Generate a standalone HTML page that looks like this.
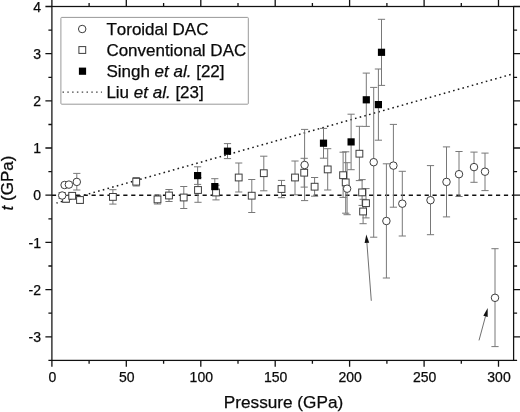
<!DOCTYPE html><html><head><meta charset="utf-8"><title>Stress vs Pressure</title>
<style>html,body{margin:0;padding:0;background:#fff}svg{display:block}text{font-family:"Liberation Sans",Arial,sans-serif;fill:#0a0a0a;stroke:#0a0a0a;stroke-width:0.25px;font-kerning:none}</style></head><body>
<svg width="520" height="412" viewBox="0 0 520 412">
<rect width="520" height="412" fill="#fff"/>
<line x1="51.9" y1="195.2" x2="513.6" y2="195.2" stroke="#111" stroke-width="1.5" stroke-dasharray="4.2 3.73"/>
<line x1="56.5" y1="203" x2="513.6" y2="73.7" stroke="#1a1a1a" stroke-width="1.5" stroke-dasharray="1.6 3.254" stroke-dashoffset="0.45"/>
<path d="M62.2 192.5V198.5M58.6 192.5H65.8M58.6 198.5H65.8" stroke="#787878" stroke-width="1" fill="none"/>
<path d="M76.8 173.4V190.0M73.2 173.4H80.4M73.2 190.0H80.4" stroke="#787878" stroke-width="1" fill="none"/>
<path d="M304.6 129.4V200.6M301.0 129.4H308.2M301.0 200.6H308.2" stroke="#787878" stroke-width="1" fill="none"/>
<path d="M347.1 162.7V214.7M343.5 162.7H350.7M343.5 214.7H350.7" stroke="#787878" stroke-width="1" fill="none"/>
<path d="M373.7 87.4V237.2M370.1 87.4H377.3M370.1 237.2H377.3" stroke="#787878" stroke-width="1" fill="none"/>
<path d="M386.4 163.8V278.0M382.8 163.8H390.0M382.8 278.0H390.0" stroke="#787878" stroke-width="1" fill="none"/>
<path d="M393.4 124.4V207.2M389.8 124.4H397.0M389.8 207.2H397.0" stroke="#787878" stroke-width="1" fill="none"/>
<path d="M402.3 171.3V236.0M398.7 171.3H405.9M398.7 236.0H405.9" stroke="#787878" stroke-width="1" fill="none"/>
<path d="M430.5 165.6V234.7M426.9 165.6H434.1M426.9 234.7H434.1" stroke="#787878" stroke-width="1" fill="none"/>
<path d="M446.5 146.9V216.9M442.9 146.9H450.1M442.9 216.9H450.1" stroke="#787878" stroke-width="1" fill="none"/>
<path d="M459.0 151.5V196.5M455.4 151.5H462.6M455.4 196.5H462.6" stroke="#787878" stroke-width="1" fill="none"/>
<path d="M474.0 152.1V182.3M470.4 152.1H477.6M470.4 182.3H477.6" stroke="#787878" stroke-width="1" fill="none"/>
<path d="M485.0 153.1V190.6M481.4 153.1H488.6M481.4 190.6H488.6" stroke="#787878" stroke-width="1" fill="none"/>
<path d="M495.0 248.7V346.6M491.4 248.7H498.6M491.4 346.6H498.6" stroke="#787878" stroke-width="1" fill="none"/>
<path d="M66.0 195.3V202.3M62.4 195.3H69.6M62.4 202.3H69.6" stroke="#787878" stroke-width="1" fill="none"/>
<path d="M72.2 193.0V198.6M68.6 193.0H75.8M68.6 198.6H75.8" stroke="#787878" stroke-width="1" fill="none"/>
<path d="M80.0 197.0V203.0M76.4 197.0H83.6M76.4 203.0H83.6" stroke="#787878" stroke-width="1" fill="none"/>
<path d="M112.9 189.7V204.1M109.3 189.7H116.5M109.3 204.1H116.5" stroke="#787878" stroke-width="1" fill="none"/>
<path d="M136.2 177.5V186.0M132.7 177.5H139.8M132.7 186.0H139.8" stroke="#787878" stroke-width="1" fill="none"/>
<path d="M157.5 195.0V204.0M153.9 195.0H161.1M153.9 204.0H161.1" stroke="#787878" stroke-width="1" fill="none"/>
<path d="M169.0 189.5V201.5M165.4 189.5H172.6M165.4 201.5H172.6" stroke="#787878" stroke-width="1" fill="none"/>
<path d="M183.8 186.5V208.5M180.2 186.5H187.3M180.2 208.5H187.3" stroke="#787878" stroke-width="1" fill="none"/>
<path d="M198.0 177.7V202.3M194.4 177.7H201.6M194.4 202.3H201.6" stroke="#787878" stroke-width="1" fill="none"/>
<path d="M216.0 185.2V199.9M212.4 185.2H219.6M212.4 199.9H219.6" stroke="#787878" stroke-width="1" fill="none"/>
<path d="M238.8 163.0V192.0M235.2 163.0H242.3M235.2 192.0H242.3" stroke="#787878" stroke-width="1" fill="none"/>
<path d="M251.8 179.5V212.5M248.2 179.5H255.3M248.2 212.5H255.3" stroke="#787878" stroke-width="1" fill="none"/>
<path d="M263.8 156.2V190.8M260.1 156.2H267.4M260.1 190.8H267.4" stroke="#787878" stroke-width="1" fill="none"/>
<path d="M281.5 180.4V197.7M277.9 180.4H285.1M277.9 197.7H285.1" stroke="#787878" stroke-width="1" fill="none"/>
<path d="M295.0 161.0V194.8M291.4 161.0H298.6M291.4 194.8H298.6" stroke="#787878" stroke-width="1" fill="none"/>
<path d="M304.2 158.3V187.1M300.6 158.3H307.8M300.6 187.1H307.8" stroke="#787878" stroke-width="1" fill="none"/>
<path d="M314.6 177.5V196.2M311.0 177.5H318.2M311.0 196.2H318.2" stroke="#787878" stroke-width="1" fill="none"/>
<path d="M327.7 148.7V190.0M324.1 148.7H331.3M324.1 190.0H331.3" stroke="#787878" stroke-width="1" fill="none"/>
<path d="M343.1 152.2V197.4M339.5 152.2H346.7M339.5 197.4H346.7" stroke="#787878" stroke-width="1" fill="none"/>
<path d="M345.7 151.8V213.2M342.1 151.8H349.3M342.1 213.2H349.3" stroke="#787878" stroke-width="1" fill="none"/>
<path d="M359.4 126.3V180.6M355.8 126.3H363.0M355.8 180.6H363.0" stroke="#787878" stroke-width="1" fill="none"/>
<path d="M362.1 179.6V205.4M358.5 179.6H365.7M358.5 205.4H365.7" stroke="#787878" stroke-width="1" fill="none"/>
<path d="M366.0 188.6V217.9M362.4 188.6H369.6M362.4 217.9H369.6" stroke="#787878" stroke-width="1" fill="none"/>
<path d="M363.1 199.3V223.7M359.5 199.3H366.7M359.5 223.7H366.7" stroke="#787878" stroke-width="1" fill="none"/>
<path d="M197.6 166.8V184.4M194.0 166.8H201.2M194.0 184.4H201.2" stroke="#787878" stroke-width="1" fill="none"/>
<path d="M214.8 178.7V194.5M211.2 178.7H218.4M211.2 194.5H218.4" stroke="#787878" stroke-width="1" fill="none"/>
<path d="M227.5 143.6V158.6M223.9 143.6H231.1M223.9 158.6H231.1" stroke="#787878" stroke-width="1" fill="none"/>
<path d="M323.5 128.4V158.2M319.9 128.4H327.1M319.9 158.2H327.1" stroke="#787878" stroke-width="1" fill="none"/>
<path d="M351.1 114.2V169.7M347.5 114.2H354.7M347.5 169.7H354.7" stroke="#787878" stroke-width="1" fill="none"/>
<path d="M366.3 73.1V126.4M362.7 73.1H369.9M362.7 126.4H369.9" stroke="#787878" stroke-width="1" fill="none"/>
<path d="M378.4 69.0V140.2M374.8 69.0H382.0M374.8 140.2H382.0" stroke="#787878" stroke-width="1" fill="none"/>
<path d="M381.5 19.3V85.4M377.9 19.3H385.1M377.9 85.4H385.1" stroke="#787878" stroke-width="1" fill="none"/>
<rect x="62.6" y="195.4" width="6.8" height="6.8" fill="#fff" stroke="#3e3e3e" stroke-width="1"/>
<rect x="68.8" y="192.4" width="6.8" height="6.8" fill="#fff" stroke="#3e3e3e" stroke-width="1"/>
<rect x="76.6" y="196.6" width="6.8" height="6.8" fill="#fff" stroke="#3e3e3e" stroke-width="1"/>
<rect x="109.5" y="193.5" width="6.8" height="6.8" fill="#fff" stroke="#3e3e3e" stroke-width="1"/>
<rect x="132.8" y="178.3" width="6.8" height="6.8" fill="#fff" stroke="#3e3e3e" stroke-width="1"/>
<rect x="154.1" y="196.0" width="6.8" height="6.8" fill="#fff" stroke="#3e3e3e" stroke-width="1"/>
<rect x="165.6" y="192.1" width="6.8" height="6.8" fill="#fff" stroke="#3e3e3e" stroke-width="1"/>
<rect x="180.3" y="194.1" width="6.8" height="6.8" fill="#fff" stroke="#3e3e3e" stroke-width="1"/>
<rect x="194.6" y="186.6" width="6.8" height="6.8" fill="#fff" stroke="#3e3e3e" stroke-width="1"/>
<rect x="212.6" y="189.1" width="6.8" height="6.8" fill="#fff" stroke="#3e3e3e" stroke-width="1"/>
<rect x="235.3" y="174.1" width="6.8" height="6.8" fill="#fff" stroke="#3e3e3e" stroke-width="1"/>
<rect x="248.3" y="192.3" width="6.8" height="6.8" fill="#fff" stroke="#3e3e3e" stroke-width="1"/>
<rect x="260.4" y="169.8" width="6.8" height="6.8" fill="#fff" stroke="#3e3e3e" stroke-width="1"/>
<rect x="278.1" y="185.6" width="6.8" height="6.8" fill="#fff" stroke="#3e3e3e" stroke-width="1"/>
<rect x="291.6" y="174.1" width="6.8" height="6.8" fill="#fff" stroke="#3e3e3e" stroke-width="1"/>
<rect x="300.8" y="169.3" width="6.8" height="6.8" fill="#fff" stroke="#3e3e3e" stroke-width="1"/>
<rect x="311.2" y="183.3" width="6.8" height="6.8" fill="#fff" stroke="#3e3e3e" stroke-width="1"/>
<rect x="324.3" y="166.0" width="6.8" height="6.8" fill="#fff" stroke="#3e3e3e" stroke-width="1"/>
<rect x="339.7" y="171.8" width="6.8" height="6.8" fill="#fff" stroke="#3e3e3e" stroke-width="1"/>
<rect x="342.3" y="179.0" width="6.8" height="6.8" fill="#fff" stroke="#3e3e3e" stroke-width="1"/>
<rect x="356.0" y="150.3" width="6.8" height="6.8" fill="#fff" stroke="#3e3e3e" stroke-width="1"/>
<rect x="358.7" y="189.0" width="6.8" height="6.8" fill="#fff" stroke="#3e3e3e" stroke-width="1"/>
<rect x="362.6" y="199.8" width="6.8" height="6.8" fill="#fff" stroke="#3e3e3e" stroke-width="1"/>
<rect x="359.7" y="208.1" width="6.8" height="6.8" fill="#fff" stroke="#3e3e3e" stroke-width="1"/>
<circle cx="62.2" cy="195.5" r="3.75" fill="#fff" stroke="#3e3e3e" stroke-width="1"/>
<circle cx="64.6" cy="185.0" r="3.75" fill="#fff" stroke="#3e3e3e" stroke-width="1"/>
<circle cx="68.9" cy="184.6" r="3.75" fill="#fff" stroke="#3e3e3e" stroke-width="1"/>
<circle cx="76.8" cy="181.9" r="3.75" fill="#fff" stroke="#3e3e3e" stroke-width="1"/>
<circle cx="304.6" cy="165.0" r="3.75" fill="#fff" stroke="#3e3e3e" stroke-width="1"/>
<circle cx="347.1" cy="188.7" r="3.75" fill="#fff" stroke="#3e3e3e" stroke-width="1"/>
<circle cx="373.7" cy="162.2" r="3.75" fill="#fff" stroke="#3e3e3e" stroke-width="1"/>
<circle cx="386.4" cy="221.0" r="3.75" fill="#fff" stroke="#3e3e3e" stroke-width="1"/>
<circle cx="393.4" cy="165.6" r="3.75" fill="#fff" stroke="#3e3e3e" stroke-width="1"/>
<circle cx="402.3" cy="203.7" r="3.75" fill="#fff" stroke="#3e3e3e" stroke-width="1"/>
<circle cx="430.5" cy="200.2" r="3.75" fill="#fff" stroke="#3e3e3e" stroke-width="1"/>
<circle cx="446.5" cy="181.9" r="3.75" fill="#fff" stroke="#3e3e3e" stroke-width="1"/>
<circle cx="459.0" cy="174.2" r="3.75" fill="#fff" stroke="#3e3e3e" stroke-width="1"/>
<circle cx="474.0" cy="167.1" r="3.75" fill="#fff" stroke="#3e3e3e" stroke-width="1"/>
<circle cx="485.0" cy="171.7" r="3.75" fill="#fff" stroke="#3e3e3e" stroke-width="1"/>
<circle cx="495.0" cy="297.8" r="3.75" fill="#fff" stroke="#3e3e3e" stroke-width="1"/>
<rect x="194.0" y="172.0" width="7.2" height="7.2" fill="#000"/>
<rect x="211.2" y="183.0" width="7.2" height="7.2" fill="#000"/>
<rect x="223.9" y="147.6" width="7.2" height="7.2" fill="#000"/>
<rect x="319.9" y="139.6" width="7.2" height="7.2" fill="#000"/>
<rect x="347.5" y="138.3" width="7.2" height="7.2" fill="#000"/>
<rect x="362.7" y="96.2" width="7.2" height="7.2" fill="#000"/>
<rect x="374.8" y="101.0" width="7.2" height="7.2" fill="#000"/>
<rect x="377.9" y="48.7" width="7.2" height="7.2" fill="#000"/>
<line x1="371.3" y1="300.8" x2="366.9" y2="242.9" stroke="#606060" stroke-width="0.9"/><polygon points="366.3,234.4 369.2,242.7 364.6,243.0" fill="#111"/>
<line x1="479" y1="340.4" x2="485.5" y2="316.3" stroke="#606060" stroke-width="0.9"/><polygon points="487.7,308.1 487.7,316.9 483.3,315.7" fill="#111"/>
<rect x="51.9" y="6.5" width="461.7" height="353.9" fill="none" stroke="#111" stroke-width="1.25"/>
<path d="M51.9 360.35V366.85M51.9 6.5V0.0M89.1 360.35V363.85M89.1 6.5V3.0M126.3 360.35V366.85M126.3 6.5V0.0M163.6 360.35V363.85M163.6 6.5V3.0M200.8 360.35V366.85M200.8 6.5V0.0M238.0 360.35V363.85M238.0 6.5V3.0M275.2 360.35V366.85M275.2 6.5V0.0M312.4 360.35V363.85M312.4 6.5V3.0M349.6 360.35V366.85M349.6 6.5V0.0M386.9 360.35V363.85M386.9 6.5V3.0M424.1 360.35V366.85M424.1 6.5V0.0M461.3 360.35V363.85M461.3 6.5V3.0M498.5 360.35V366.85M498.5 6.5V0.0M51.9 336.8H45.4M513.6 336.8H520.1M51.9 289.6H45.4M513.6 289.6H520.1M51.9 242.4H45.4M513.6 242.4H520.1M51.9 195.2H45.4M513.6 195.2H520.1M51.9 148.0H45.4M513.6 148.0H520.1M51.9 100.9H45.4M513.6 100.9H520.1M51.9 53.7H45.4M513.6 53.7H520.1M51.9 6.5H45.4M513.6 6.5H520.1M51.9 360.4H48.4M513.6 360.4H517.1M51.9 313.2H48.4M513.6 313.2H517.1M51.9 266.0H48.4M513.6 266.0H517.1M51.9 218.8H48.4M513.6 218.8H517.1M51.9 171.6H48.4M513.6 171.6H517.1M51.9 124.5H48.4M513.6 124.5H517.1M51.9 77.3H48.4M513.6 77.3H517.1M51.9 30.1H48.4M513.6 30.1H517.1" stroke="#111" stroke-width="1.3" fill="none"/>
<text x="52.4" y="382" font-size="14" text-anchor="middle">0</text>
<text x="126.8" y="382" font-size="14" text-anchor="middle">50</text>
<text x="201.3" y="382" font-size="14" text-anchor="middle">100</text>
<text x="275.7" y="382" font-size="14" text-anchor="middle">150</text>
<text x="350.1" y="382" font-size="14" text-anchor="middle">200</text>
<text x="424.6" y="382" font-size="14" text-anchor="middle">250</text>
<text x="499.0" y="382" font-size="14" text-anchor="middle">300</text>
<text x="41" y="341.9" font-size="14" text-anchor="end">-3</text>
<text x="41" y="294.7" font-size="14" text-anchor="end">-2</text>
<text x="41" y="247.5" font-size="14" text-anchor="end">-1</text>
<text x="41" y="200.3" font-size="14" text-anchor="end">0</text>
<text x="41" y="153.1" font-size="14" text-anchor="end">1</text>
<text x="41" y="106.0" font-size="14" text-anchor="end">2</text>
<text x="41" y="58.8" font-size="14" text-anchor="end">3</text>
<text x="41" y="11.6" font-size="14" text-anchor="end">4</text>
<text x="283.5" y="408" font-size="17.2" text-anchor="middle">Pressure (GPa)</text>
<text transform="translate(12.7 183) rotate(-90)" font-size="17" text-anchor="middle"><tspan font-style="italic">t</tspan> (GPa)</text>
<rect x="60.9" y="17.4" width="187.4" height="86.8" rx="0.8" fill="#fff" stroke="#999" stroke-width="1"/>
<circle cx="82.2" cy="29" r="3.75" fill="#fff" stroke="#3e3e3e" stroke-width="1"/>
<rect x="78.9" y="46.6" width="6.8" height="6.8" fill="#fff" stroke="#3e3e3e" stroke-width="1"/>
<rect x="78.9" y="67.6" width="7.2" height="7.2" fill="#000"/>
<line x1="62.5" y1="92.2" x2="102" y2="92.2" stroke="#444" stroke-width="1.3" stroke-dasharray="1.5 3.3"/>
<text x="106.4" y="34.6" font-size="17">Toroidal DAC</text>
<text x="106.4" y="55.6" font-size="17">Conventional DAC</text>
<text x="106.4" y="76.6" font-size="17">Singh <tspan font-style="italic">et al.</tspan> [22]</text>
<text x="106.4" y="97.6" font-size="17">Liu <tspan font-style="italic">et al.</tspan> [23]</text>
</svg></body></html>
